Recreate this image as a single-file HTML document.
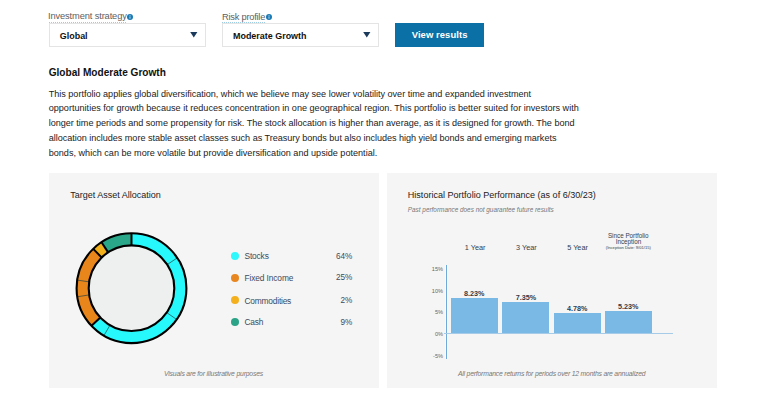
<!DOCTYPE html>
<html><head><meta charset="utf-8">
<style>
*{margin:0;padding:0;box-sizing:border-box}
html,body{width:768px;height:400px;overflow:hidden;background:#fff}
body{position:relative;font-family:"Liberation Sans",sans-serif;color:#222}
.a{position:absolute;white-space:nowrap;line-height:1}
.dot{position:absolute;height:1px;background-image:linear-gradient(to right,#9ccbe6 50%,transparent 50%);background-size:2px 1px}
.info{position:absolute}
.sel{position:absolute;border:1px solid #e4e4e4;background:#fff}
.tri{position:absolute;width:0;height:0;border-left:3.7px solid transparent;border-right:3.7px solid transparent;border-top:5.5px solid #1b3a5b}
.btn{position:absolute;background:#0b70a5}
.panel{position:absolute;background:#f5f5f5}
.ld{position:absolute;width:8.2px;height:8.2px;border-radius:50%}
.bar{position:absolute;background:#7ab8e6}
</style></head><body>
<div class="dot" style="left:49px;top:21.5px;width:78px"></div>
<svg class="info" style="left:127px;top:13.9px" width="6" height="6" viewBox="0 0 6 6"><circle cx="3" cy="3" r="3" fill="#1a7ab5"/><rect x="2.55" y="2.4" width="0.9" height="2.3" fill="#cfe3f0"/><rect x="2.55" y="1.2" width="0.9" height="0.8" fill="#cfe3f0"/></svg>
<div class="dot" style="left:222px;top:21.5px;width:44px"></div>
<svg class="info" style="left:266px;top:13.9px" width="6" height="6" viewBox="0 0 6 6"><circle cx="3" cy="3" r="3" fill="#1a7ab5"/><rect x="2.55" y="2.4" width="0.9" height="2.3" fill="#cfe3f0"/><rect x="2.55" y="1.2" width="0.9" height="0.8" fill="#cfe3f0"/></svg>
<div class="sel" style="left:49px;top:23px;width:157px;height:24px"><svg style="position:absolute;left:139.5px;top:8px" width="8" height="6" viewBox="0 0 8 6"><polygon points="0.2,0.1 7.4,0.1 3.8,5.4" fill="#1b3a5b"/></svg></div>
<div class="sel" style="left:222px;top:23px;width:157px;height:24px"><svg style="position:absolute;left:139.5px;top:8px" width="8" height="6" viewBox="0 0 8 6"><polygon points="0.2,0.1 7.4,0.1 3.8,5.4" fill="#1b3a5b"/></svg></div>
<div class="btn" style="left:395px;top:23px;width:89px;height:24px"></div>
<div class="panel" style="left:49px;top:173px;width:330px;height:215px"></div>
<div class="panel" style="left:387px;top:173px;width:330px;height:215px"></div>
<svg style="position:absolute;left:0;top:0" width="768" height="400">
<path d="M131.50 233.30A54.9 54.9 0 1 1 91.55 325.85L100.35 317.55A42.8 42.8 0 1 0 131.50 245.40Z" fill="#26f8fb"/>
<path d="M91.55 325.85A54.9 54.9 0 0 1 93.23 248.84L101.66 257.52A42.8 42.8 0 0 0 100.35 317.55Z" fill="#e8861c"/>
<path d="M93.23 248.84A54.9 54.9 0 0 1 101.52 242.21L108.13 252.35A42.8 42.8 0 0 0 101.66 257.52Z" fill="#f3b01b"/>
<path d="M101.52 242.21A54.9 54.9 0 0 1 131.50 233.30L131.50 245.40A42.8 42.8 0 0 0 108.13 252.35Z" fill="#2aa688"/>
<circle cx="131.5" cy="288.2" r="42.8" fill="#eef0f0"/>
<line x1="167.19" y1="264.58" x2="177.28" y2="257.90" stroke="#2a4040" stroke-width="0.7"/>
<line x1="166.69" y1="312.57" x2="176.64" y2="319.45" stroke="#2a4040" stroke-width="0.7"/>
<line x1="109.97" y1="325.19" x2="103.88" y2="335.65" stroke="#2a4040" stroke-width="0.7"/>
<line x1="89.23" y1="294.90" x2="77.28" y2="296.79" stroke="#2a4040" stroke-width="0.7"/>
<line x1="89.17" y1="281.87" x2="77.20" y2="280.09" stroke="#2a4040" stroke-width="0.7"/>
<line x1="131.50" y1="245.40" x2="131.50" y2="233.30" stroke="#000" stroke-width="2"/>
<line x1="100.35" y1="317.55" x2="91.55" y2="325.85" stroke="#000" stroke-width="2"/>
<line x1="101.66" y1="257.52" x2="93.23" y2="248.84" stroke="#000" stroke-width="2"/>
<line x1="108.13" y1="252.35" x2="101.52" y2="242.21" stroke="#000" stroke-width="2"/>
<circle cx="131.5" cy="288.2" r="54.9" fill="none" stroke="#000" stroke-width="2.1"/>
<circle cx="131.5" cy="288.2" r="42.8" fill="none" stroke="#000" stroke-width="2.1"/>

</svg>
<div class="ld" style="left:231px;top:251.7px;background:#2ef8fc"></div>
<div class="ld" style="left:231px;top:273.7px;background:#e8861f"></div>
<div class="ld" style="left:231px;top:295.9px;background:#f4b11d"></div>
<div class="ld" style="left:231px;top:317.7px;background:#2aa387"></div>
<div style="position:absolute;left:446px;top:264.7px;width:1px;height:94px;background:#6fa9d9;box-shadow:-1px 0 #fafafa,1px 0 #fafafa"></div>
<div style="position:absolute;left:443.5px;top:333px;width:229.5px;height:1px;background:#a6cbe8"></div>
<div class="bar" style="left:451px;top:298px;width:47px;height:35px"></div>
<div class="bar" style="left:502.3px;top:302px;width:46.8px;height:31px"></div>
<div class="bar" style="left:553.8px;top:312.8px;width:47px;height:20.2px"></div>
<div class="bar" style="left:605px;top:310.5px;width:47px;height:22.5px"></div>
<div class="a" style="left:48.02px;top:11.83px;font-size:9.3px;letter-spacing:-0.129px;color:#606060">Investment strategy</div>
<div class="a" style="left:222px;top:12.77px;font-size:9.3px;letter-spacing:-0.24px;color:#606060">Risk profile</div>
<div class="a" style="left:59.8px;top:31.72px;font-size:8.95px;font-weight:bold;color:#111">Global</div>
<div class="a" style="left:233px;top:31.72px;font-size:8.95px;font-weight:bold;color:#111">Moderate Growth</div>
<div class="a" style="left:411.7px;top:29.70px;font-size:9.45px;letter-spacing:0.073px;font-weight:bold;color:#fff">View results</div>
<div class="a" style="left:48.7px;top:67.77px;font-size:10.1px;font-weight:bold;color:#111">Global Moderate Growth</div>
<div class="a" style="left:48.7px;top:89.78px;font-size:9.1px;letter-spacing:-0.015px;color:#222">This portfolio applies global diversification, which we believe may see lower volatility over time and expanded investment</div>
<div class="a" style="left:48.7px;top:103.90px;font-size:9.1px;color:#222">opportunities for growth because it reduces concentration in one geographical region. This portfolio is better suited for investors with</div>
<div class="a" style="left:48.7px;top:118.90px;font-size:9.1px;letter-spacing:-0.019px;color:#222">longer time periods and some propensity for risk. The stock allocation is higher than average, as it is designed for growth. The bond</div>
<div class="a" style="left:48.7px;top:133.90px;font-size:9.1px;letter-spacing:-0.035px;color:#222">allocation includes more stable asset classes such as Treasury bonds but also includes high yield bonds and emerging markets</div>
<div class="a" style="left:48.7px;top:148.90px;font-size:9.1px;color:#222">bonds, which can be more volatile but provide diversification and upside potential.</div>
<div class="a" style="left:70.2px;top:191.12px;font-size:9.0px;color:#222">Target Asset Allocation</div>
<div class="a" style="left:407.8px;top:190.76px;font-size:9.05px;color:#222">Historical Portfolio Performance (as of 6/30/23)</div>
<div class="a" style="left:407.8px;top:206.78px;font-size:6.4px;font-style:italic;color:#777">Past performance does not guarantee future results</div>
<div class="a" style="left:244.5px;top:252.39px;font-size:8.4px;letter-spacing:-0.16px;color:#3d4b5c">Stocks</div>
<div class="a" style="left:244.5px;top:274.29px;font-size:8.4px;letter-spacing:-0.124px;color:#3d4b5c">Fixed Income</div>
<div class="a" style="left:244.5px;top:296.79px;font-size:8.4px;letter-spacing:-0.208px;color:#3d4b5c">Commodities</div>
<div class="a" style="left:244.5px;top:318.49px;font-size:8.4px;letter-spacing:-0.2px;color:#3d4b5c">Cash</div>
<div class="a" style="left:300px;top:252.56px;font-size:8.2px;width:52.3px;text-align:right;color:#3d4b5c">64%</div>
<div class="a" style="left:300px;top:274.46px;font-size:8.2px;width:52.3px;text-align:right;color:#3d4b5c">25%</div>
<div class="a" style="left:300px;top:296.96px;font-size:8.2px;width:52.3px;text-align:right;color:#3d4b5c">2%</div>
<div class="a" style="left:300px;top:318.66px;font-size:8.2px;width:52.3px;text-align:right;color:#3d4b5c">9%</div>
<div class="a" style="left:164px;top:370.90px;font-size:6.8px;letter-spacing:-0.169px;font-style:italic;color:#777">Visuals are for illustrative purposes</div>
<div class="a" style="left:457.9px;top:370.90px;font-size:6.8px;letter-spacing:-0.191px;font-style:italic;color:#777">All performance returns for periods over 12 months are annualized</div>
<div class="a" style="left:464.8px;top:243.72px;font-size:7.3px;color:#333f4e">1 Year</div>
<div class="a" style="left:516px;top:243.72px;font-size:7.3px;color:#333f4e">3 Year</div>
<div class="a" style="left:567.2px;top:243.82px;font-size:7.3px;color:#333f4e">5 Year</div>
<div class="a" style="left:607.9px;top:233.47px;font-size:6.3px;color:#333f4e">Since Portfolio</div>
<div class="a" style="left:615.7px;top:239.31px;font-size:6.3px;color:#333f4e">Inception</div>
<div class="a" style="left:605.8px;top:246.13px;font-size:4.1px;color:#333f4e">(Inception Date: 9/01/15)</div>
<div class="a" style="left:400px;top:266.56px;font-size:5.6px;width:43px;text-align:right;color:#666">15%</div>
<div class="a" style="left:400px;top:289.16px;font-size:5.6px;width:43px;text-align:right;color:#666">10%</div>
<div class="a" style="left:400px;top:309.96px;font-size:5.6px;width:43px;text-align:right;color:#666">5%</div>
<div class="a" style="left:400px;top:332.06px;font-size:5.6px;width:43px;text-align:right;color:#666">0%</div>
<div class="a" style="left:400px;top:353.68px;font-size:5.6px;width:43px;text-align:right;color:#666">-5%</div>
<div class="a" style="left:464px;top:289.81px;font-size:7.2px;font-weight:bold;color:#333b48">8.23%</div>
<div class="a" style="left:515.7px;top:294.21px;font-size:7.2px;font-weight:bold;color:#333b48">7.35%</div>
<div class="a" style="left:566.9px;top:304.66px;font-size:7.2px;font-weight:bold;color:#333b48">4.78%</div>
<div class="a" style="left:617.92px;top:302.61px;font-size:7.2px;font-weight:bold;color:#333b48">5.23%</div>
</body></html>
